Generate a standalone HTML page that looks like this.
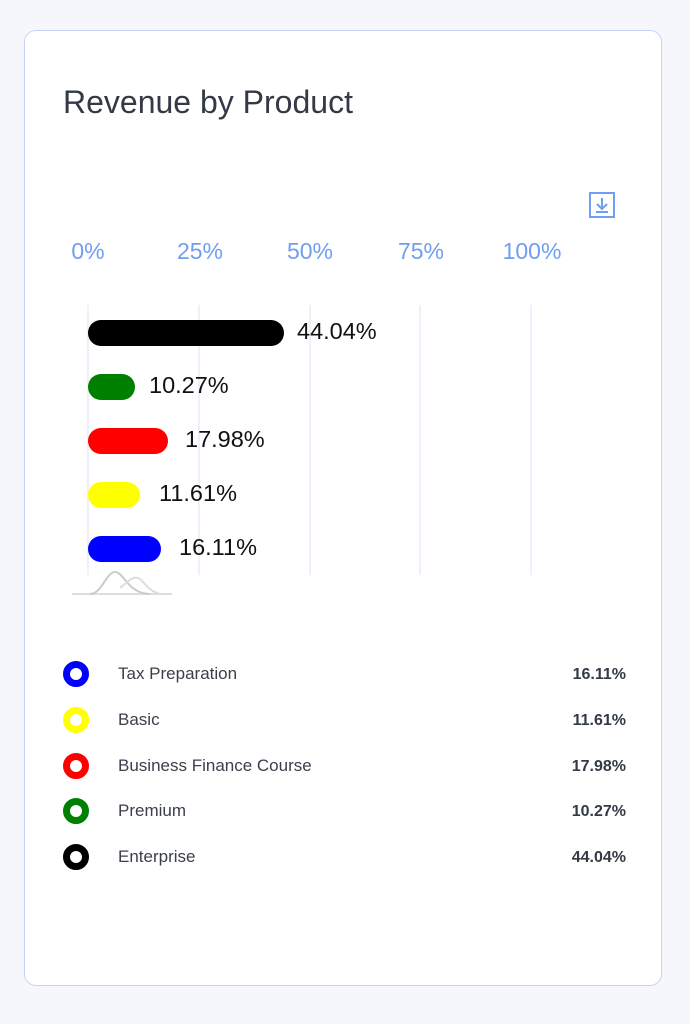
<!DOCTYPE html>
<html><head><style>
body{margin:0;width:690px;height:1024px;background:#f6f7fc;font-family:"Liberation Sans",sans-serif;position:relative;overflow:hidden}
.card{position:absolute;left:24px;top:30px;width:636px;height:954px;background:#fff;border:1px solid #c5d4f7;border-radius:12px}
.t{position:absolute;left:63px;top:84px;font-size:32px;color:#333a45}
.ax{position:absolute;top:238px;font-size:23px;color:#6f9ef2;transform:translateX(-50%)}
.g{position:absolute;top:305px;height:270px;width:2px;background:#eef0fb}
.bar{position:absolute;left:88px;height:26px;border-radius:13px}
.bl{position:absolute;font-size:23.5px;color:#111}
.lc{position:absolute;left:63px;width:12px;height:12px;border-radius:50%;border:7px solid}
.ln{position:absolute;left:118px;font-size:17px;color:#3a3f4a}
.lv{position:absolute;right:64px;font-size:16px;font-weight:bold;color:#333a45}
</style></head><body>
<div class="card"></div>
<div class="t">Revenue by Product</div>
<svg style="position:absolute;left:589px;top:192px" width="26" height="26" viewBox="0 0 26 26"><rect x="1" y="1" width="24" height="24" fill="none" stroke="#6f9ef2" stroke-width="2"/><path d="M13 6v11M8 12l5 5 5-5M7 20h12" stroke="#6f9ef2" stroke-width="2" fill="none"/></svg>
<div class="ax" style="left:88px">0%</div>
<div class="ax" style="left:200px">25%</div>
<div class="ax" style="left:310px">50%</div>
<div class="ax" style="left:421px">75%</div>
<div class="ax" style="left:532px">100%</div>
<div class="g" style="left:87px"></div><div class="g" style="left:198px"></div><div class="g" style="left:309px"></div><div class="g" style="left:419px"></div><div class="g" style="left:530px"></div>
<div class="bar" style="top:320px;width:196px;background:#000"></div><div class="bl" style="left:297px;top:318px">44.04%</div>
<div class="bar" style="top:374px;width:47px;background:#008000"></div><div class="bl" style="left:149px;top:372px">10.27%</div>
<div class="bar" style="top:428px;width:80px;background:#f00"></div><div class="bl" style="left:185px;top:426px">17.98%</div>
<div class="bar" style="top:482px;width:52px;background:#ff0"></div><div class="bl" style="left:159px;top:480px">11.61%</div>
<div class="bar" style="top:536px;width:73px;background:#00f"></div><div class="bl" style="left:179px;top:534px">16.11%</div>
<svg style="position:absolute;left:70px;top:568px" width="104" height="30"><path d="M2 26h100" stroke="#ddd" stroke-width="2"/><path d="M20 26C32 26 36 4 45 4S58 26 80 26" stroke="#ccc" stroke-width="2" fill="none"/><path d="M50 20C58 14 62 8 68 10S76 22 90 26" stroke="#ddd" stroke-width="2" fill="none"/></svg>
<div class="lc" style="top:661px;border-color:#00f"></div><div class="ln" style="top:664px">Tax Preparation</div><div class="lv" style="top:666px">16.11%</div>
<div class="lc" style="top:707px;border-color:#ff0"></div><div class="ln" style="top:710px">Basic</div><div class="lv" style="top:712px">11.61%</div>
<div class="lc" style="top:753px;border-color:#f00"></div><div class="ln" style="top:756px">Business Finance Course</div><div class="lv" style="top:758px">17.98%</div>
<div class="lc" style="top:798px;border-color:#008000"></div><div class="ln" style="top:801px">Premium</div><div class="lv" style="top:803px">10.27%</div>
<div class="lc" style="top:844px;border-color:#000"></div><div class="ln" style="top:847px">Enterprise</div><div class="lv" style="top:849px">44.04%</div>
</body></html>
